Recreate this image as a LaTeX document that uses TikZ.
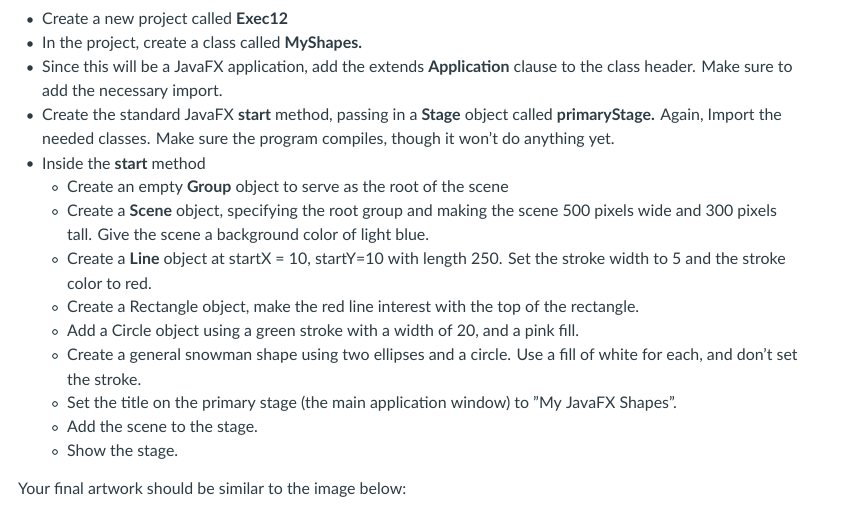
\documentclass[tikz,border=0pt]{standalone}
\usepackage{fontspec}
\setmainfont{Lato}
\definecolor{txt}{HTML}{2D3B45}
\newcommand{\sq}{\symbol{39}}
\newcommand{\dq}{\symbol{34}}
\begin{document}
\begin{tikzpicture}[x=1pt,y=-1pt,
  t/.style={anchor=west,inner sep=0pt,text=txt,font=\fontsize{15.95}{18}\selectfont},
  b1/.style={fill=txt,draw=none},
  b2/.style={draw=txt,line width=0.9pt,fill=none}]
\useasboundingbox[fill=white] (0,0) rectangle (853,505);
\foreach \y in {20,44,68,116,164} \fill[b1] (30,\y) circle (2.8);
\foreach \y in {188,212,260,308,332,356,404,428,452} \draw[b2] (55,\y) circle (2.4);
\node[t] (l1) at (42,20) {Create a new project called \textbf{Exec12}};
\node[t] (l2) at (42,44) {In the project, create a class called \textbf{MyShapes.}};
\node[t] (l3) at (42,68) {Since this will be a JavaFX application, add the extends \textbf{Application} clause to the class header. Make sure to};
\node[t] (l3b) at (42,92) {add the necessary import.};
\node[t] (l4) at (42,116) {Create the standard JavaFX \textbf{start} method, passing in a \textbf{Stage} object called \textbf{primaryStage.} Again, Import the};
\node[t] (l4b) at (42,140) {needed classes. Make sure the program compiles, though it won\sq t do anything yet.};
\node[t] (l5) at (42,164) {Inside the \textbf{start} method};
\node[t] (s1) at (67,188) {Create an empty \textbf{Group} object to serve as the root of the scene};
\node[t] (s2) at (67,212) {Create a \textbf{Scene} object, specifying the root group and making the scene 500 pixels wide and 300 pixels};
\node[t] (s2b) at (67,236) {tall. Give the scene a background color of light blue.};
\node[t] (s3) at (67,260) {Create a \textbf{Line} object at startX = 10, startY=10 with length 250. Set the stroke width to 5 and the stroke};
\node[t] (s3b) at (67,284) {color to red.};
\node[t] (s4) at (67,308) {Create a Rectangle object, make the red line interest with the top of the rectangle.};
\node[t] (s5) at (67,332) {Add a Circle object using a green stroke with a width of 20, and a pink fill.};
\node[t] (s6) at (67,356) {Create a general snowman shape using two ellipses and a circle. Use a fill of white for each, and don\sq t set};
\node[t] (s6b) at (67,380) {the stroke.};
\node[t] (s7) at (67,404) {Set the title on the primary stage (the main application window) to \dq My JavaFX Shapes\dq.};
\node[t] (s8) at (67,428) {Add the scene to the stage.};
\node[t] (s9) at (67,452) {Show the stage.};
\node[t] (f) at (18,490) {Your final artwork should be similar to the image below:};
\end{tikzpicture}
\end{document}
